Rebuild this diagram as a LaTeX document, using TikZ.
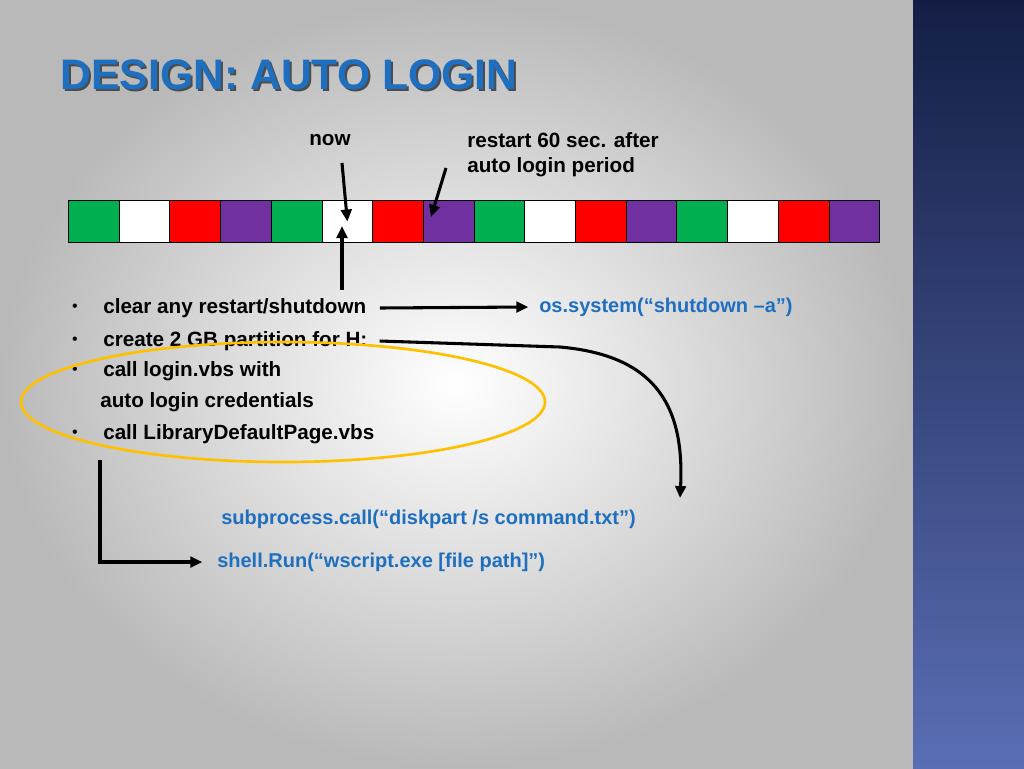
\documentclass[tikz,border=0pt]{standalone}
\usepackage{fontspec}
\setmainfont{Liberation Sans}
\usetikzlibrary{arrows.meta}
\definecolor{SlideBlue}{HTML}{1F6FC0}
\definecolor{CellGreen}{HTML}{00B050}
\definecolor{CellRed}{HTML}{FF0000}
\definecolor{CellPurple}{HTML}{7030A0}
\definecolor{RingGold}{HTML}{FFC000}
\definecolor{BarDark}{HTML}{141E45}
\definecolor{BarLight}{HTML}{5A6EB4}
\begin{document}
\begin{tikzpicture}[x=0.75pt, y=-0.75pt, font=\bfseries\fontsize{15.5}{18}\selectfont,
    cell/.style={draw, line width=0.8pt, minimum width=50.7*0.75pt, minimum height=42*0.75pt, inner sep=0pt, anchor=north west},
    note/.style={anchor=west, inner sep=0pt, align=left},
    code/.style={note, text=SlideBlue, font=\bfseries\fontsize{15}{18}\selectfont},
    pointer/.style={-{Triangle[length=9pt,width=8pt]}, line width=2.3pt}]
    % background
    \useasboundingbox (0,0) rectangle (1024,768);
    \shade[inner color=white, outer color=gray!55] (0,0) rectangle (913,768);
    \shade[top color=BarDark, bottom color=BarLight] (913,0) rectangle (1024,768);
    % title
    \node[anchor=west, text=black!70, font=\bfseries\fontsize{32}{36}\selectfont] at (58,77) {DESIGN: AUTO LOGIN};
    \node[anchor=west, text=SlideBlue, font=\bfseries\fontsize{32}{36}\selectfont] (title) at (56,75) {DESIGN: AUTO LOGIN};
    % timeline
    \foreach \c [count=\i from 0] in {CellGreen,white,CellRed,CellPurple,CellGreen,white,CellRed,CellPurple,CellGreen,white,CellRed,CellPurple,CellGreen,white,CellRed,CellPurple}
        \node[cell, fill=\c] (c\i) at (68+50.7*\i,200) {};
    \node[note] (now) at (309,140) {now};
    \node[note] (restart) at (467,155) {restart 60 sec. after\\[1pt]auto login period};
    \coordinate (nowtop) at (342,163);
    \coordinate (nowbot) at (342,290);
    \coordinate (nowup) at (342,226);
    \coordinate (rstart) at (446,168);
    \coordinate (rend) at (431,217);
    \draw[pointer] (nowtop) -- (c5.center);
    \draw[pointer] (nowbot) -- (nowup);
    \draw[pointer] (rstart) -- (rend);
    % bullets
    \foreach \y/\t [count=\k] in {308/{clear any restart/shutdown}, 341/{create 2 GB partition for H:}, 371/{call login.vbs with}, 434/{call LibraryDefaultPage.vbs}}
        \node[note] (b\k) at (103,\y) {\t};
    \foreach \y in {308,341,371,434}
        \node[font=\fontsize{12}{12}\selectfont] at (75,\y) {•};
    \node[note] (b5) at (100,402) {auto login credentials};
    % code notes
    \node[code] (os) at (539,307) {os.system(“shutdown –a”)};
    \node[code] (sub) at (221,519) {subprocess.call(“diskpart /s command.txt”)};
    \node[code] (shell) at (217,562) {shell.Run(“wscript.exe [file path]”)};
    \coordinate (diskend) at (680,498);
    \coordinate (elbow) at (100,460);
    \draw[pointer] ([xshift=10pt]b1.east) -- ([xshift=-8pt]os.west);
    \draw[pointer] ([xshift=9pt]b2.east) -- (560,347)
        .. controls (650,355) and (685,400) .. (diskend);
    \draw[pointer] (elbow) |- ([xshift=-11pt]shell.west);
    % highlight ring
    \draw[RingGold, line width=2pt] (283,402) ellipse [x radius=262, y radius=60];
\end{tikzpicture}
\end{document}
